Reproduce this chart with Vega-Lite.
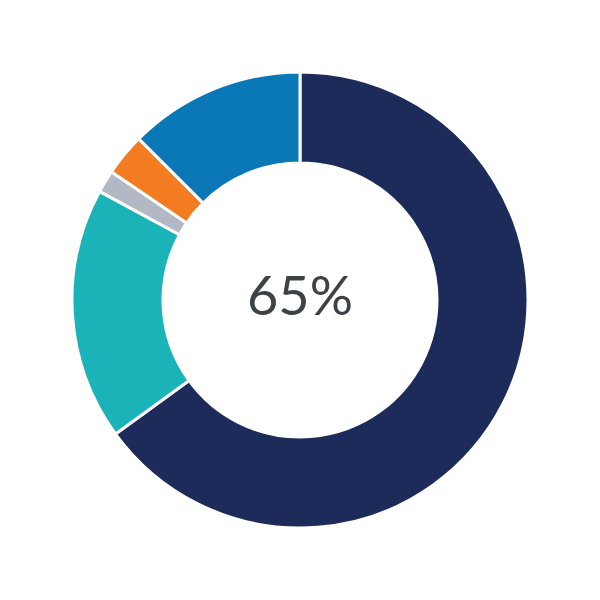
{
  "$schema": "https://vega.github.io/schema/vega-lite/v6.json",
  "width": 600,
  "height": 600,
  "autosize": {"type": "fit", "contains": "padding"},
  "padding": 0,
  "background": "white",
  "view": {"stroke": null},
  "layer": [
    {
      "data": {
        "values": [
          {"segment": "Navy", "rank": 1, "share": 65.0},
          {"segment": "Teal", "rank": 2, "share": 17.9},
          {"segment": "Gray", "rank": 3, "share": 1.6},
          {"segment": "Orange", "rank": 4, "share": 3.0},
          {"segment": "Blue", "rank": 5, "share": 12.5}
        ]
      },
      "mark": {"type": "arc", "outerRadius": 228, "innerRadius": 137, "stroke": "white", "strokeWidth": 3},
      "encoding": {
        "theta": {"field": "share", "type": "quantitative", "stack": true},
        "order": {"field": "rank", "type": "quantitative"},
        "color": {
          "field": "segment",
          "type": "nominal",
          "legend": null,
          "scale": {
            "domain": ["Navy", "Teal", "Gray", "Orange", "Blue"],
            "range": ["#1c2b5a", "#1ab3b8", "#b3b9c4", "#f47c20", "#0a77b7"]
          }
        }
      }
    },
    {
      "data": {"values": [{"label": "65%"}]},
      "mark": {"type": "text", "font": "Lato", "fontSize": 54, "color": "#3d4247", "baseline": "middle", "align": "center", "dy": -1},
      "encoding": {
        "text": {"field": "label", "type": "nominal"}
      }
    }
  ]
}
